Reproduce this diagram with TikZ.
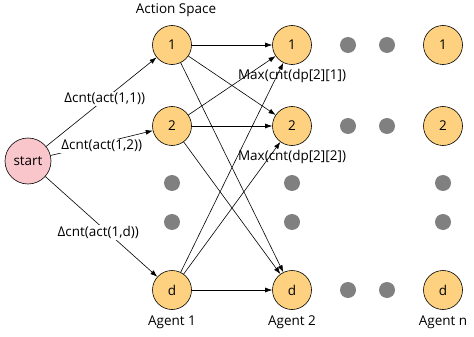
\documentclass[tikz,border=0pt]{standalone}
\usepackage{fontspec}
\setmainfont{Open Sans}
\usetikzlibrary{arrows.meta}
\definecolor{Slot}{HTML}{FDD17F}
\definecolor{Rose}{HTML}{F9C6CC}
\definecolor{Ash}{HTML}{808080}

\begin{document}
\begin{tikzpicture}[x=1pt,y=-1pt,>={Latex[length=7pt,width=5pt]},
    font=\fontsize{13.5}{16}\selectfont, line width=0.6pt,
    slot/.style={circle,draw,fill=Slot,minimum size=39pt,inner sep=0pt},
    gap/.style={circle,fill=Ash,minimum size=16pt,inner sep=0pt},
    cost/.style={fill=white,inner sep=1pt}]
    \useasboundingbox (0,0) rectangle (474,337);
    \node[circle,draw,fill=Rose,minimum size=46pt,inner sep=0pt] (start) at (28,161) {start};
    \foreach \c/\x/\lab in {1/172/Agent 1,2/292/Agent 2,n/443/Agent n} {
      \node[slot] (a\c-1) at (\x,45) {1};
      \node[slot] (a\c-2) at (\x,126) {2};
      \node[slot] (a\c-d) at (\x,290) {d};
      \node[gap] (v\c-1) at (\x,183) {};
      \node[gap] (v\c-2) at (\x,222) {};
      \node (agent\c) at (\x,322) {\lab};
    }
    \foreach \r/\y in {1/45,2/126,d/290} {
      \node[gap] (h\r-1) at (348,\y) {};
      \node[gap] (h\r-2) at (387,\y) {};
    }
    \node (space) at (176,10) {Action Space};
    \draw[->] (start) -- node[cost,pos=0.53] {Δcnt(act(1,1))} (a1-1);
    \draw[->] (start) -- node[cost,pos=0.5,yshift=-3pt] {Δcnt(act(1,2))} (a1-2);
    \draw[->] (start) -- node[cost,pos=0.5,xshift=-3pt,yshift=-6pt] {Δcnt(act(1,d))} (a1-d);
    \foreach \i in {1,2,d}
      \foreach \j in {1,2,d}
        \draw[->] (a1-\i) -- (a2-\j);
    \node (max1) at (292,76) {Max(cnt(dp[2][1])};
    \node (max2) at (292,157) {Max(cnt(dp[2][2])};
  \end{tikzpicture}
\end{document}
